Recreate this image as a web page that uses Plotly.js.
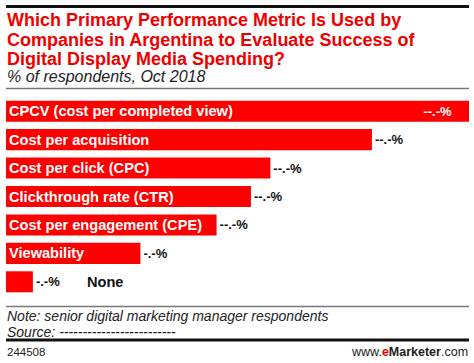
<!DOCTYPE html>
<html>
<head>
<meta charset="utf-8">
<script src="https://cdn.plot.ly/plotly-3.0.1.min.js"></script>
<style>
html,body{margin:0;padding:0;background:#fff;}
#chart{width:474px;height:363px;}
</style>
</head>
<body>
<div id="chart"></div>
<script>
// ---- data ----
var categories = [
  "CPCV (cost per completed view)",
  "Cost per acquisition",
  "Cost per click (CPC)",
  "Clickthrough rate (CTR)",
  "Cost per engagement (CPE)",
  "Viewability",
  "None"
];
// values (labels are masked in the source)
var values = [31.0, 24.5, 17.7, 16.4, 14.1, 9.0, 1.8];
var valueLabels = ["--.-%", "--.-%", "--.-%", "--.-%", "--.-%", "-.-%", "-.-%"];
var labelInside = [true, true, true, true, true, true, false];

var titleLines = [
  "Which Primary Performance Metric Is Used by",
  "Companies in Argentina to Evaluate Success of",
  "Digital Display Media Spending?"
];
var subtitle = "% of respondents, Oct 2018";
var noteText = "Note: senior digital marketing manager respondents";
var sourceText = "Source: -------------------------";
var chartId = "244508";

// ---- layout geometry ----
var W = 474, H = 363;
var mL = 6, mR = 5, mT = 97, mB = 67;
var plotW = W - mL - mR, plotH = H - mT - mB;
function py(p) { return (H - mB - p) / plotH; }
function px(p) { return (p - mL) / plotW; }

var RED = "#ff0000";
var TITLE_RED = "#ee0000";
var FONT = "Liberation Sans, Arial, sans-serif";

var textPos = values.map(function (v, i) { return i === 0 ? "inside" : "outside"; });
var textColors = values.map(function (v, i) { return i === 0 ? "#ffffff" : "#111111"; });
var barText = valueLabels.map(function (t, i) {
  return textPos[i] === "inside" ? t + "\u00a0\u00a0\u00a0\u00a0" : t;
});

var trace = {
  type: "bar",
  orientation: "h",
  y: categories,
  x: values,
  text: barText,
  textposition: textPos,
  insidetextanchor: "end",
  constraintext: "none",
  cliponaxis: false,
  textfont: { family: FONT, size: 13, color: textColors, weight: "bold" },
  marker: { color: RED, line: { width: 0 } },
  hoverinfo: "none"
};

var annotations = [];
categories.forEach(function (c, i) {
  annotations.push({
    x: 0, y: c, xref: "x", yref: "y",
    xanchor: "left", yanchor: "middle",
    xshift: labelInside[i] ? 1 : 79,
    text: "<b>" + c + "</b>",
    showarrow: false,
    font: { family: FONT, size: 14.6, color: labelInside[i] ? "#ffffff" : "#111111" }
  });
});

var titleY = [20.5, 39.6, 58.8];
titleLines.forEach(function (t, i) {
  annotations.push({
    x: px(5), y: py(titleY[i]), xref: "paper", yref: "paper",
    xanchor: "left", yanchor: "middle",
    text: "<b>" + t + "</b>", showarrow: false,
    font: { family: FONT, size: 18, color: TITLE_RED }
  });
});
annotations.push({
  x: px(5), y: py(76), xref: "paper", yref: "paper",
  xanchor: "left", yanchor: "middle",
  text: "<i>" + subtitle + "</i>", showarrow: false,
  font: { family: FONT, size: 16, color: "#222222" }
});
annotations.push({
  x: px(5), y: py(316), xref: "paper", yref: "paper",
  xanchor: "left", yanchor: "middle",
  text: "<i>" + noteText + "</i>", showarrow: false,
  font: { family: FONT, size: 14, color: "#222222" }
});
annotations.push({
  x: px(5), y: py(331.5), xref: "paper", yref: "paper",
  xanchor: "left", yanchor: "middle",
  text: "<i>" + sourceText + "</i>", showarrow: false,
  font: { family: FONT, size: 14, color: "#222222" }
});
annotations.push({
  x: px(5), y: py(351.5), xref: "paper", yref: "paper",
  xanchor: "left", yanchor: "middle",
  text: chartId, showarrow: false,
  font: { family: FONT, size: 11.5, color: "#222222" }
});
annotations.push({
  x: px(470), y: py(351.5), xref: "paper", yref: "paper",
  xanchor: "right", yanchor: "middle",
  text: "www.<b><span style='color:#ee0000'>e</span>Marketer</b>.com", showarrow: false,
  font: { family: FONT, size: 12.5, color: "#222222" }
});

var shapes = [
  { type: "line", xref: "paper", yref: "paper", x0: 0, x1: 1, y0: py(6.5), y1: py(6.5),
    line: { color: "#111111", width: 3 } },
  { type: "line", xref: "paper", yref: "paper", x0: 0, x1: 1, y0: py(88.5), y1: py(88.5),
    line: { color: "#777777", width: 1.5 } },
  { type: "line", xref: "paper", yref: "paper", x0: 0, x1: 1, y0: py(306.5), y1: py(306.5),
    line: { color: "#777777", width: 1.5 } },
  { type: "line", xref: "paper", yref: "paper", x0: 0, x1: 1, y0: py(340), y1: py(340),
    line: { color: "#111111", width: 3 } }
];

var layout = {
  width: W, height: H,
  margin: { l: mL, r: mR, t: mT, b: mB, pad: 0 },
  paper_bgcolor: "#ffffff",
  plot_bgcolor: "#ffffff",
  showlegend: false,
  bargap: 0.26,
  xaxis: { range: [0, values[0]], visible: false, fixedrange: true },
  yaxis: { type: "category", range: [6.5, -0.5], visible: false, fixedrange: true },
  annotations: annotations,
  shapes: shapes,
  font: { family: FONT }
};

Plotly.newPlot("chart", [trace], layout, { staticPlot: true, displayModeBar: false });
</script>
</body>
</html>
